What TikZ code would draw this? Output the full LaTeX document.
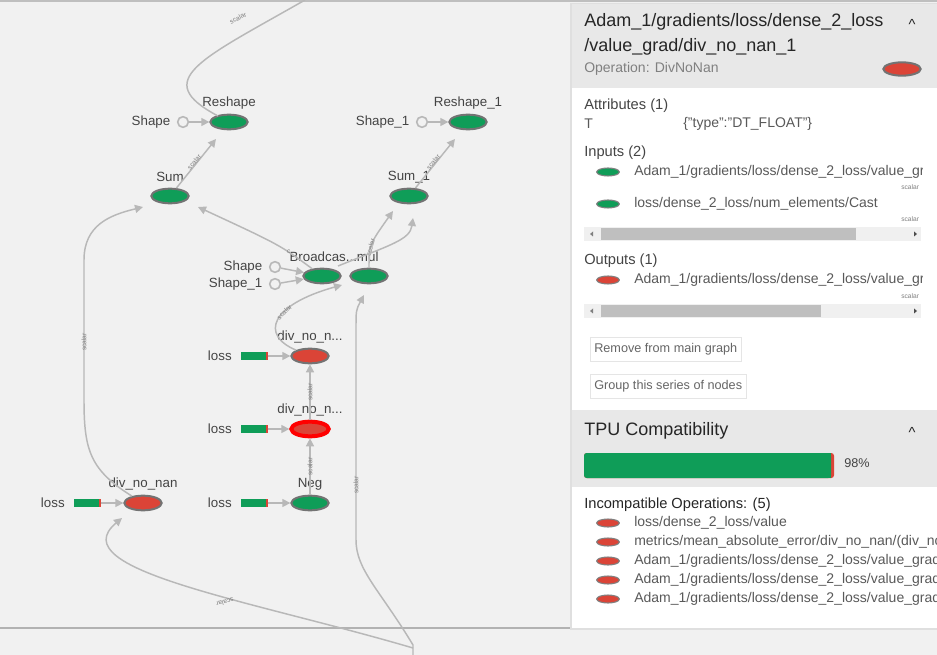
\documentclass[tikz,border=0pt]{standalone}
\usepackage{fontspec}
\setmainfont{Liberation Sans}
\usetikzlibrary{arrows.meta,shapes.geometric,shadows}
\definecolor{bgc}{HTML}{F1F1F1}
\definecolor{gn}{HTML}{0F9D58}
\definecolor{rd}{HTML}{DB4437}
\definecolor{edg}{HTML}{B8B8B8}
\definecolor{txt}{HTML}{444444}
\definecolor{hdr}{HTML}{E8E8E8}
\newcommand{\fs}[1]{\fontsize{#1}{#1}\selectfont}
\tikzset{
 op/.style={ellipse,draw=gray!90!black,line width=1.5pt,minimum width=28pt,minimum height=11pt,inner sep=0pt},
 gop/.style={op,fill=gn}, rop/.style={op,fill=rd},
 cst/.style={circle,draw=edg,line width=1.2pt,minimum size=8pt,inner sep=0pt},
 lossbox/.style={rectangle,fill=gn,minimum width=20pt,minimum height=6pt,inner sep=0pt},
 lab/.style={text=txt,font=\fs{10}},
 sc/.style={text=gray,font=\fs{5},inner sep=0.5pt},
 ed/.style={draw=edg,line width=1.1pt,-{Triangle[length=6pt,width=6pt]}},
 pl/.style={draw=edg,line width=1.1pt},
 ptxt/.style={anchor=west,text=txt,font=\fs{11},inner sep=0pt},
 pitem/.style={anchor=west,text=gray!70!black,font=\fs{10.5},inner sep=0pt},
 pel/.style={ellipse,draw=gray,line width=0.8pt,minimum width=17pt,minimum height=6pt,inner sep=0pt},
 btn/.style={draw=gray!20,fill=white,rectangle,text=gray!80!black,font=\fs{9.5},minimum height=18pt,inner sep=3pt,drop shadow={opacity=0.25,shadow xshift=0.5pt,shadow yshift=-1pt}},
}
\begin{document}
\begin{tikzpicture}[x=0.75pt,y=-0.75pt]
\useasboundingbox (0,0) rectangle (937,655);
\fill[bgc] (0,0) rectangle (937,655);
\draw[gray!50,line width=1.5pt] (0,1) -- (937,1);
\draw[gray!60,line width=1.5pt] (0,628) -- (570,628);
% nodes
\node[gop] (reshape) at (229,122) {}; \node[lab] at (229,103) {Reshape};
\node[cst] (shp) at (183,122) {}; \node[lab,anchor=east] (shpt) at (175,122) {Shape};
\node[gop] (reshape1) at (468,122) {}; \node[lab] at (468,103) {Reshape\_1};
\node[cst] (shp1) at (422,122) {}; \node[lab,anchor=east] (shp1t) at (414,122) {Shape\_1};
\node[gop] (sum) at (170,196) {}; \node[lab] at (170,177) {Sum};
\node[gop] (sum1) at (409,196) {}; \node[lab] at (409,177) {Sum\_1};
\node[gop] (bc) at (322,276) {}; \node[gop] (mul) at (369,276) {};
\node[lab] at (334,257) {Broadcas...mul};
\node[cst] (bs) at (275,267) {}; \node[lab,anchor=east] at (267,267) {Shape};
\node[cst] (bs1) at (275,284) {}; \node[lab,anchor=east] at (267,284) {Shape\_1};
\node[rop] (d1) at (310,356) {}; \node[lab] at (310,337) {div\_no\_n...};
\node[op,fill=rd,draw=red,line width=3pt] (d2) at (310,429) {}; \node[lab] at (310,410) {div\_no\_n...};
\node[gop] (neg) at (310,503) {}; \node[lab] at (310,484) {Neg};
\node[rop] (dnn) at (143,503) {}; \node[lab] at (143,484) {div\_no\_nan};
\foreach \n/\y/\x in {l1/356/254,l2/429/254,l3/503/254,l4/503/87}{
 \node[lossbox] (\n) at (\x,\y) {};
 \fill[rd] ([xshift=-1.2pt]\n.north east) rectangle (\n.south east);
 \node[lab,anchor=east] at ([xshift=-3pt]\n.west) {loss};
}
\coordinate (bot) at (413,655);
\coordinate (top) at (305,0);
% edges
\draw[ed] (shp) -- (reshape); \draw[ed] (shp1) -- (reshape1);
\draw[ed] (bs) -- (bc); \draw[ed] (bs1) -- (bc);
\foreach \n/\m in {l1/d1,l2/d2,l3/neg,l4/dnn} \draw[ed] (\n) -- (\m);
\draw[pl] (top) .. controls (200,60) and (150,80) .. (218,116);
\node[sc,rotate=27] at (238,18) {scalar};
\draw[ed] (sum) -- node[sc,sloped,above=-1pt] {scalar} (216,139);
\draw[ed] (sum1) -- node[sc,sloped,above=-1pt] {scalar} (455,139);
\draw[ed] (bc) .. controls (280,245) .. node[sc,pos=0.3] {c} (198,207);
\draw[ed] (mul.north) .. controls (369,245) .. node[sc,sloped,pos=0.4] {scalar} (393,211);
\draw[ed] (338,266) .. controls (390,245) and (410,240) .. (413,218);
\draw[ed] (d1) .. controls (260,335) and (270,305) .. node[sc,sloped,pos=0.6] {scalar} (342,285);
\draw[ed] (neg) -- node[sc,sloped] {scalar} (d2);
\draw[ed] (d2) -- node[sc,sloped] {scalar} (d1);
\draw[ed] (dnn) .. controls (90,470) and (84,450) .. (84,400) -- (84,260) .. controls (84,225) and (110,215) .. (143,207);
\node[sc,rotate=90] at (84,342) {scalar};
\draw[ed] (bot) -- (413,645) .. controls (380,590) and (356,570) .. (356,540) -- (356,330) .. controls (356,310) .. (364,295);
\node[sc,rotate=90] at (356,485) {scalar};
\draw[ed] (413,648) .. controls (250,600) and (60,570) .. (122,518);
\node[sc,rotate=195] at (225,602) {scalar};
% panel
\fill[gray!25] (570,3) rectangle (937,630);
\fill[white] (572,4) rectangle (937,628);
\fill[hdr] (572,4) rectangle (937,88);
\fill[hdr] (572,410) rectangle (937,487);
\node[anchor=west,text=black!85,font=\fs{13.5},inner sep=0pt] at (584,22) {Adam\_1/gradients/loss/dense\_2\_loss};
\node[anchor=west,text=black!85,font=\fs{13.5},inner sep=0pt] at (584,47) {/value\_grad/div\_no\_nan\_1};
\node[anchor=west,text=gray,font=\fs{10.5},inner sep=0pt] at (584,69) {Operation: DivNoNan};
\node[font=\fs{11},text=black!85] at (912,24) {\textasciicircum};
\node[op,fill=rd,minimum width=28pt,minimum height=10pt] at (902,69) {};
\node[ptxt] at (584,106) {Attributes (1)};
\node[pitem] at (584,124) {T};
\node[pitem] at (683,124) {\{"type":"DT\_FLOAT"\}};
\node[ptxt] at (584,153) {Inputs (2)};
\begin{scope}
\clip (572,0) rectangle (922,655);
\node[pel,fill=gn] at (608,172) {}; \node[pitem] at (634,172) {Adam\_1/gradients/loss/dense\_2\_loss/value\_grad};
\node[pel,fill=gn] at (608,204) {}; \node[pitem] at (634,204) {loss/dense\_2\_loss/num\_elements/Cast};
\node[pel,fill=rd] at (608,280) {}; \node[pitem] at (634,280) {Adam\_1/gradients/loss/dense\_2\_loss/value\_grad};
\end{scope}
\foreach \y in {187,219,296} \node[sc,anchor=east] at (920,\y) {scalar};
\fill[gray!12] (584,227) rectangle (921,241); \fill[gray!50] (601,228) rectangle (856,240);
\fill[gray!12] (584,304) rectangle (921,318); \fill[gray!50] (601,305) rectangle (821,317);
\foreach \y in {234,311}{\fill[gray] (590,\y) -- (593,\y-2.5) -- (593,\y+2.5) -- cycle; \fill[black!70] (917,\y) -- (914,\y-2.5) -- (914,\y+2.5) -- cycle;}
\node[ptxt] at (584,261) {Outputs (1)};
\node[btn,anchor=west] at (590,349) {Remove from main graph};
\node[btn,anchor=west] at (590,386) {Group this series of nodes};
\node[anchor=west,text=black!85,font=\fs{13.5},inner sep=0pt] at (584,431) {TPU Compatibility};
\node[font=\fs{11},text=black!85] at (912,432) {\textasciicircum};
\fill[rd,rounded corners=2pt] (584,453) rectangle (834,478);
\fill[gn,rounded corners=2pt] (584,453) rectangle (831,478);
\fill[gn] (820,453) rectangle (831,478);
\node[anchor=west,text=txt,font=\fs{9.5},inner sep=0pt] at (844,463) {98\%};
\node[ptxt,text=black!85] at (584,505) {Incompatible Operations: (5)};
\begin{scope}
\clip (572,0) rectangle (937,655);
\foreach \y in {523,542,561,580,599} \node[pel,fill=rd] at (608,\y) {};
\node[pitem] at (634,523) {loss/dense\_2\_loss/value};
\node[pitem] at (634,542) {metrics/mean\_absolute\_error/div\_no\_nan/(div\_no\_nan)};
\node[pitem] at (634,561) {Adam\_1/gradients/loss/dense\_2\_loss/value\_grad};
\node[pitem] at (634,580) {Adam\_1/gradients/loss/dense\_2\_loss/value\_grad};
\node[pitem] at (634,599) {Adam\_1/gradients/loss/dense\_2\_loss/value\_grad};
\end{scope}
\end{tikzpicture}
\end{document}
